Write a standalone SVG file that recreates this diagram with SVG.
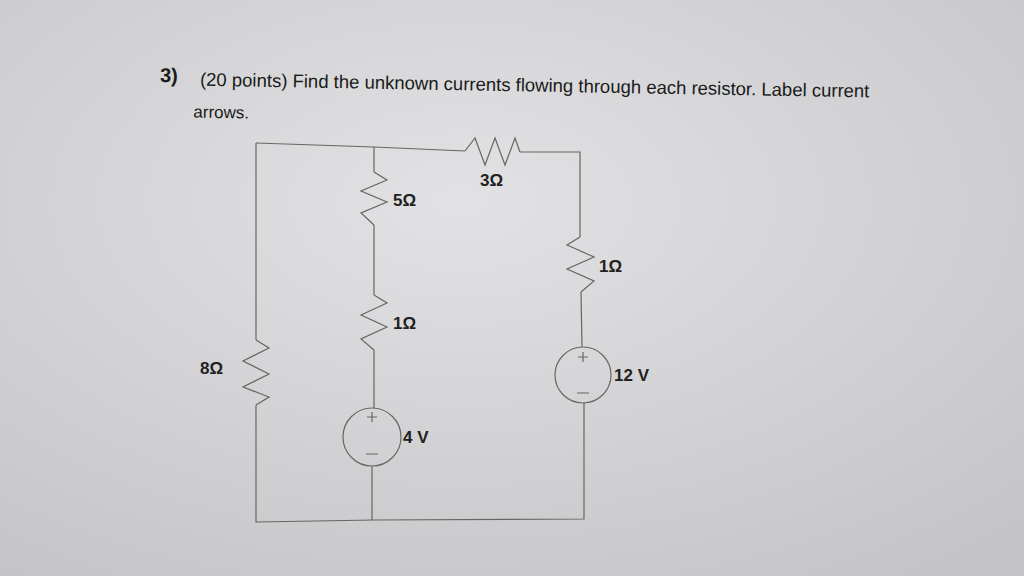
<svg xmlns="http://www.w3.org/2000/svg" width="1024" height="576" viewBox="0 0 1024 576">
<defs>
<radialGradient id="bg" cx="0.45" cy="0.35" r="0.8">
<stop offset="0" stop-color="#e2e2e4"/><stop offset="1" stop-color="#c4c4c6"/>
</radialGradient>
<style>
.w{fill:none;stroke:#666;stroke-width:1.2}
.t{font-family:"Liberation Sans",Arial,sans-serif;fill:#1a1a1a}
.l{font-family:"Liberation Sans",Arial,sans-serif;font-weight:bold;font-size:17px;fill:#222}
</style>
</defs>
<rect width="1024" height="576" fill="url(#bg)"/>
<g transform="rotate(1 160 80)">
<text class="t" x="160" y="82" font-size="20" font-weight="bold">3)</text>
<text class="t" x="200" y="85" font-size="18.5">(20 points) Find the unknown currents flowing through each resistor. Label current</text>
<text class="t" x="194" y="117" font-size="17">arrows.</text>
</g>
<g id="connectors">
<path class="w" d="M256,143 L374,147 L465,151"/>
<path class="w" d="M520,152 L580,152 L580,237"/>
<path class="w" d="M256,143 L256,340 M256,405 L256,522 L374,520 L584,519 L584,403"/>
<path class="w" d="M374,147 L374,172 M374,225 L374,295 M374,350 L374,408 M372,466 L372,520"/>
<path class="w" d="M581,292 L582,347"/>
</g>
<g id="r3"><path class="w" d="M465,151 L475,138 L485,165 L495,138 L505,165 L515,138 L520,152"/><text class="l" x="480" y="186">3Ω</text></g>
<g id="r5"><path class="w" d="M374,172 L387,180 L361,191 L387,202 L361,213 L374,225"/><text class="l" x="393" y="206">5Ω</text></g>
<g id="r1m"><path class="w" d="M374,295 L387,303 L361,315 L387,327 L361,339 L374,350"/><text class="l" x="393" y="329">1Ω</text></g>
<g id="r1r"><path class="w" d="M580,237 L567,245 L594,257 L567,269 L594,281 L581,292"/><text class="l" x="599" y="272">1Ω</text></g>
<g id="r8"><path class="w" d="M256,340 L269,348 L243,361 L269,374 L243,387 L269,397 L256,405"/><text class="l" x="200" y="374">8Ω</text></g>
<g id="v4"><circle class="w" cx="372" cy="437" r="29"/><path class="w" d="M367,417 h10 M372,412 v10 M366,454 h12"/><text class="l" x="403" y="443">4 V</text></g>
<g id="v12"><circle class="w" cx="583" cy="375" r="28"/><path class="w" d="M578,357 h10 M583,352 v10 M577,393 h12"/><text class="l" x="614" y="381">12 V</text></g>
</svg>
